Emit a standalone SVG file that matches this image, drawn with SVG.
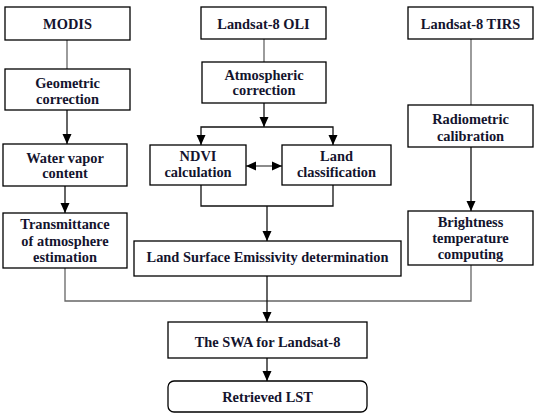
<svg xmlns="http://www.w3.org/2000/svg" width="539" height="420" viewBox="0 0 539 420">
<style>
.box{fill:#fff;stroke:#000;stroke-width:1.3}
.t{font-family:"Liberation Serif","Times New Roman",serif;font-weight:bold;font-size:14.4px;fill:#14142e;text-anchor:middle}
.ln{fill:none;stroke:#666;stroke-width:1.3}
.ar{fill:none;stroke:#111;stroke-width:1.3}
</style>
<defs>
<marker id="ah" markerUnits="userSpaceOnUse" markerWidth="10" markerHeight="10" refX="10" refY="4.5" orient="auto-start-reverse" viewBox="0 0 10 9">
<path d="M0,0 L10,4.5 L0,9 z" fill="#000"/>
</marker>
</defs>
<rect width="539" height="420" fill="#fff"/>
<g id="connectors">
<path class="ln" d="M67,40 V69"/>
<path class="ar" d="M67,110 V144" marker-end="url(#ah)"/>
<path class="ar" d="M65,186 V213" marker-end="url(#ah)"/>
<path class="ln" d="M65,268 V301 H471 V265"/>
<path class="ln" d="M264,39 V62"/>
<path class="ar" d="M264,103 V127" marker-end="url(#ah)"/>
<path class="ar" d="M201,145 V127 H333 V145" marker-start="url(#ah)" marker-end="url(#ah)"/>
<path class="ln" d="M246,166 H282" marker-start="url(#ah)" marker-end="url(#ah)"/>
<path class="ar" d="M201,185 V206 H333 V185"/>
<path class="ar" d="M267,206 V241" marker-end="url(#ah)"/>
<path class="ar" d="M267,276 V322" marker-end="url(#ah)"/>
<path class="ln" d="M471,39 V105"/>
<path class="ar" d="M471,147 V211" marker-end="url(#ah)"/>
<path class="ar" d="M267,358 V381" marker-end="url(#ah)"/>
</g>
<g id="modis"><rect class="box" x="5" y="7" width="125" height="33"/><text class="t" x="67.5" y="29">MODIS</text></g>
<g id="geometric"><rect class="box" x="5" y="69" width="125" height="41"/><text class="t" x="67.5" y="88">Geometric</text><text class="t" x="67.5" y="104">correction</text></g>
<g id="watervapor"><rect class="box" x="3" y="144" width="124" height="42"/><text class="t" x="65" y="163">Water vapor</text><text class="t" x="65" y="178">content</text></g>
<g id="transmittance"><rect class="box" x="3" y="213" width="124" height="55"/><text class="t" x="65" y="229">Transmittance</text><text class="t" x="65" y="245.5">of atmosphere</text><text class="t" x="65" y="262">estimation</text></g>
<g id="oli"><rect class="box" x="201" y="7" width="125" height="32"/><text class="t" x="263.5" y="29">Landsat-8 OLI</text></g>
<g id="atmospheric"><rect class="box" x="202" y="62" width="124" height="41"/><text class="t" x="264" y="80">Atmospheric</text><text class="t" x="264" y="95">correction</text></g>
<g id="ndvi"><rect class="box" x="150" y="145" width="96" height="40"/><text class="t" x="198" y="161">NDVI</text><text class="t" x="198" y="177">calculation</text></g>
<g id="landclass"><rect class="box" x="282" y="145" width="109" height="40"/><text class="t" x="336.5" y="161">Land</text><text class="t" x="336.5" y="177">classification</text></g>
<g id="lse"><rect class="box" x="134" y="241" width="267" height="35"/><text class="t" x="267.5" y="262">Land Surface Emissivity determination</text></g>
<g id="tirs"><rect class="box" x="408" y="7" width="125" height="32"/><text class="t" x="470.5" y="29">Landsat-8 TIRS</text></g>
<g id="radiometric"><rect class="box" x="408" y="105" width="125" height="42"/><text class="t" x="470.5" y="124">Radiometric</text><text class="t" x="470.5" y="141">calibration</text></g>
<g id="brightness"><rect class="box" x="408" y="211" width="125" height="54"/><text class="t" x="470.5" y="227">Brightness</text><text class="t" x="470.5" y="243">temperature</text><text class="t" x="470.5" y="259">computing</text></g>
<g id="swa"><rect class="box" x="168" y="322" width="199" height="36"/><text class="t" x="267.5" y="347">The SWA for Landsat-8</text></g>
<g id="lst"><rect class="box" x="168" y="381" width="199" height="31" rx="6"/><text class="t" x="267.5" y="402">Retrieved LST</text></g>
</svg>
